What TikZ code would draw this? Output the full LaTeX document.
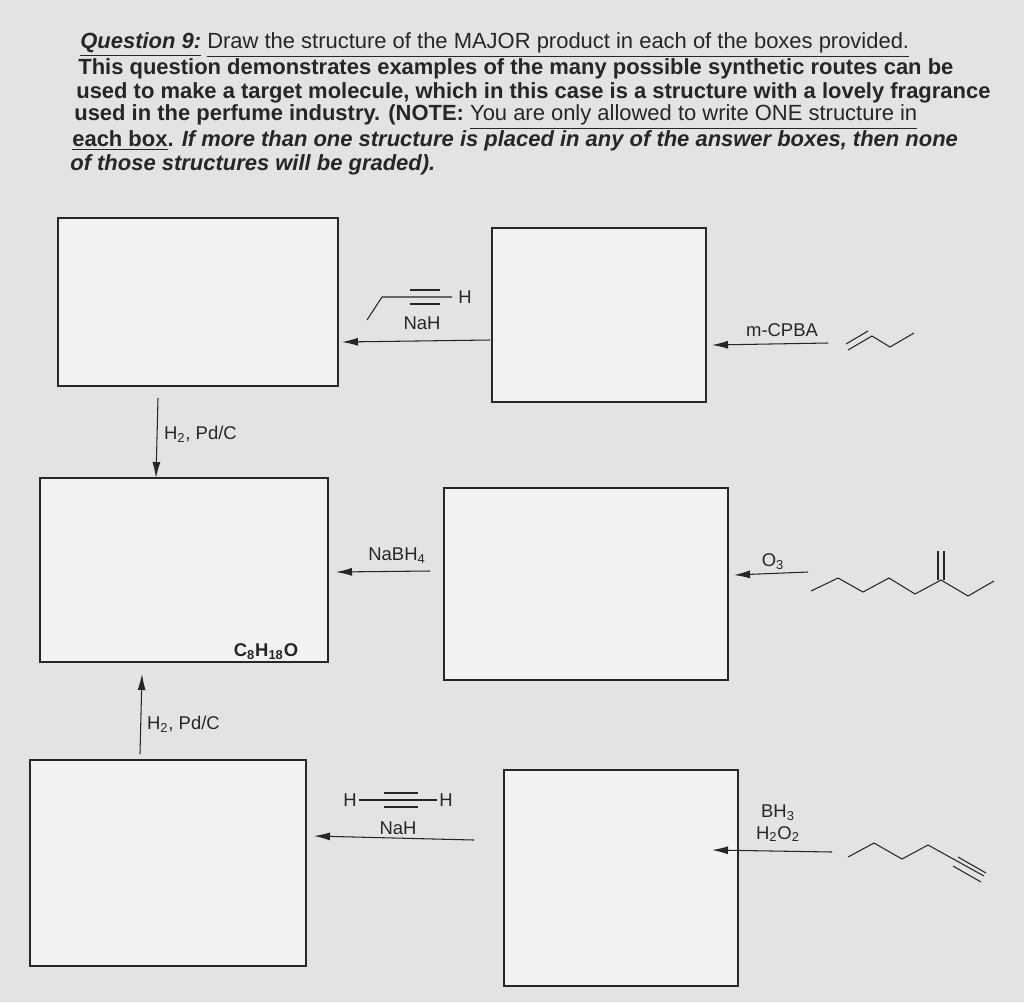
\documentclass[tikz,border=0pt]{standalone}
\usepackage{fontspec}
\setmainfont{Liberation Sans}
\usetikzlibrary{arrows.meta}
\newcommand{\sbs}[1]{\textsubscript{#1}}
\begin{document}
\begin{tikzpicture}[x=0.02cm,y=-0.02cm,
  ansbox/.style={draw=black!85,line width=0.9pt,fill=white!90!gray},
  rxn/.style={draw=black!85,line width=0.6pt,-{Latex[length=3.2mm,width=1.6mm]}},
  bond/.style={line width=0.6pt,black!85},
  lbl/.style={font=\fontsize{10.5pt}{12pt}\selectfont,text=black!85,inner sep=1pt},
  qtext/.style={anchor=west,font=\fontsize{12.5pt}{14pt}\selectfont\bfseries,text=black!85,inner sep=0pt}]
\fill[gray!22] (0,0) rectangle (1024,1002);
\useasboundingbox (0,0) rectangle (1024,1002);
% question text
\node[qtext] (q1) at (80,45) {\itshape\underline{Question 9:}\upshape\ \mdseries\underline{Draw the structure of the MAJOR product in each of the boxes provided.}};
\node[qtext] (q2) at (78,69) {This question demonstrates examples of the many possible synthetic routes can be};
\node[qtext] (q3) at (76,93) {used to make a target molecule, which in this case is a structure with a lovely fragrance};
\node[qtext] (q4) at (74,117) {used in the perfume industry. (NOTE: \mdseries\underline{You are only allowed to write ONE structure in}};
\node[qtext] (q5) at (72,141) {\underline{each box}. \itshape If more than one structure is placed in any of the answer boxes, then none};
\node[qtext] (q6) at (70,165) {\itshape of those structures will be graded).};
% boxes
\node[ansbox,minimum width=5.6cm,minimum height=3.36cm] (box1) at (198,302) {};
\node[ansbox,minimum width=4.28cm,minimum height=3.48cm] (box2) at (599,315) {};
\node[ansbox,minimum width=5.76cm,minimum height=3.68cm] (box3) at (184,570) {};
\node[ansbox,minimum width=5.68cm,minimum height=3.84cm] (box4) at (586,584) {};
\node[ansbox,minimum width=5.52cm,minimum height=4.12cm] (box5) at (168,863) {};
\node[ansbox,minimum width=4.68cm,minimum height=4.32cm] (box6) at (621,878) {};
% arrows
\coordinate (a1s) at (490,340); \coordinate (a1e) at (342,342);
\draw[rxn] (a1s) -- (a1e);
\node[lbl] (nah1) at (422,323) {NaH};
\coordinate (p1) at (367,320); \coordinate (p2) at (382,297); \coordinate (p3) at (452,297);
\draw[bond] (p1) -- (p2) -- (p3);
\draw[bond] (410,290) -- (440,290); \draw[bond] (410,304) -- (440,304);
\node[lbl] (h1) at (465,297) {H};
%
\coordinate (a2s) at (828,343); \coordinate (a2e) at (712,345);
\draw[rxn] (a2s) -- (a2e);
\node[lbl] (mcpba) at (782,330) {m-CPBA};
\draw[bond] (848,350) -- (872,336) -- (890,347) -- (914,333);
\draw[bond] (846,344) -- (868,331);
%
\coordinate (a3s) at (158,398); \coordinate (a3e) at (156,478);
\draw[rxn] (a3s) -- (a3e);
\node[lbl,anchor=west] (h2a) at (162,434) {H\sbs{2}, Pd/C};
%
\coordinate (a4s) at (430,571); \coordinate (a4e) at (336,572);
\draw[rxn] (a4s) -- (a4e);
\node[lbl] (nabh4) at (397,556) {NaBH\sbs{4}};
\node[lbl] (c8) at (266,652) {\bfseries C\sbs{8}H\sbs{18}O};
%
\coordinate (a5s) at (140,754); \coordinate (a5e) at (142,674);
\draw[rxn] (a5s) -- (a5e);
\node[lbl,anchor=west] (h2b) at (145,724) {H\sbs{2}, Pd/C};
%
\coordinate (a6s) at (808,572); \coordinate (a6e) at (734,575);
\draw[rxn] (a6s) -- (a6e);
\node[lbl] (o3) at (773,562) {O\sbs{3}};
\draw[bond] (811,591) -- (838,578) -- (863,592) -- (889,578) -- (915,594) -- (941,580) -- (968,596) -- (994,581);
\draw[bond] (938,580) -- (938,551); \draw[bond] (944,580) -- (944,551);
%
\coordinate (a7s) at (474,840); \coordinate (a7e) at (314,836);
\draw[rxn] (a7s) -- (a7e);
\node[lbl] (hl) at (350,800) {H};
\node[lbl] (hr) at (446,800) {H};
\draw[bond] (hl) -- (hr);
\draw[bond] (384,793) -- (418,793); \draw[bond] (384,807) -- (418,807);
\node[lbl] (nah2) at (398,828) {NaH};
%
\coordinate (a8s) at (832,852); \coordinate (a8e) at (712,850);
\draw[rxn] (a8s) -- (a8e);
\node[lbl] (bh3) at (778,813) {BH\sbs{3}};
\node[lbl] (h2o2) at (778,834) {H\sbs{2}O\sbs{2}};
\draw[bond] (848,857) -- (874,843) -- (902,859) -- (928,845) -- (984,876);
\draw[bond] (958,857) -- (986,873); \draw[bond] (953,866) -- (981,882);
\end{tikzpicture}
\end{document}
